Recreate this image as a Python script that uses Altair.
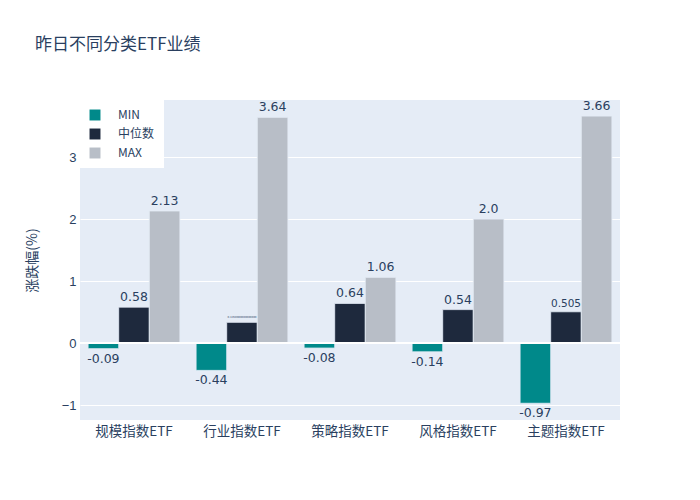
import altair as alt
import pandas as pd

categories = ["规模指数ETF", "行业指数ETF", "策略指数ETF", "风格指数ETF", "主题指数ETF"]
series = ["MIN", "中位数", "MAX"]
min_vals = [-0.09, -0.44, -0.08, -0.14, -0.97]
med_vals = [0.58, 0.335, 0.64, 0.54, 0.505]
max_vals = [2.13, 3.64, 1.06, 2.0, 3.66]
min_labels = ["-0.09", "-0.44", "-0.08", "-0.14", "-0.97"]
med_labels = ["0.58", "0.3350000000000000", "0.64", "0.54", "0.505"]
max_labels = ["2.13", "3.64", "1.06", "2.0", "3.66"]
colors = ["#00898a", "#1e293d", "#b8bec7"]

rows = []
for s, vals, labs in zip(series, [min_vals, med_vals, max_vals], [min_labels, med_labels, max_labels]):
    for c, v, l in zip(categories, vals, labs):
        rows.append({"cat": c, "series": s, "value": v, "label": l})
df = pd.DataFrame(rows)

x = alt.X("cat:N", sort=categories, title=None,
          scale=alt.Scale(paddingInner=0.15, paddingOuter=0.075),
          axis=alt.Axis(labelAngle=0, labelFontSize=13.5, labelColor="#2a3f5f",
                        ticks=False, domain=False, labelPadding=4,
                        labelFont="Noto Sans CJK SC"))
xo = alt.XOffset("series:N", sort=series, scale=alt.Scale(paddingInner=0, paddingOuter=0))
y = alt.Y("value:Q", title="涨跌幅(%)",
          scale=alt.Scale(domain=[-1.24, 3.92], nice=False, zero=False),
          axis=alt.Axis(values=[-1, 0, 1, 2, 3], format="d", labelFontSize=13,
                        labelColor="#2a3f5f", ticks=False, domain=False,
                        gridColor="white", gridWidth=1,
                        titleFontSize=14, titleColor="#2a3f5f", titleFontWeight="normal",
                        titleFont="Noto Sans CJK SC", labelPadding=4, titlePadding=22))
color = alt.Color("series:N", sort=series,
                  scale=alt.Scale(domain=series, range=colors),
                  legend=alt.Legend(title=None, orient="top-left", offset=0,
                                    fillColor="white", padding=9, symbolType="square",
                                    symbolSize=120, symbolStrokeWidth=0, symbolOpacity=1,
                                    labelFontSize=12, labelColor="#2a3f5f",
                                    labelFont="Noto Sans CJK SC", rowPadding=7,
                                    labelOffset=17))

base = alt.Chart(df)
bars = base.mark_bar(stroke="#e5ecf6", strokeWidth=0.8).encode(x=x, xOffset=xo, y=y, color=color)
zero = alt.Chart(pd.DataFrame({"z": [0]})).mark_rule(color="white", strokeWidth=2).encode(y="z:Q")

fsize = alt.condition("length(datum.label) > 4", alt.value(10.5), alt.value(12.5))
pos = base.transform_filter("datum.value >= 0 && length(datum.label) < 8").mark_text(
    baseline="bottom", dy=-3, color="#2a3f5f", font="DejaVu Sans"
).encode(x=x, xOffset=xo, y=y, text="label:N", size=fsize)
neg = base.transform_filter("datum.value < 0").mark_text(
    baseline="top", dy=4, fontSize=12.5, color="#2a3f5f", font="DejaVu Sans"
).encode(x=x, xOffset=xo, y=y, text="label:N")
tiny = base.transform_filter("length(datum.label) >= 8").mark_text(
    baseline="bottom", dy=-3, fontSize=2.6, color="#2a3f5f", font="DejaVu Sans"
).encode(x=x, xOffset=xo, y=y, text="label:N")

chart = alt.layer(bars, zero, pos, neg, tiny).properties(
    width=540, height=320,
    background="white",
    autosize=alt.AutoSizeParams(type="none"),
    padding={"left": 72, "top": 92, "right": 72, "bottom": 72},
    title=alt.TitleParams("昨日不同分类ETF业绩", anchor="start", frame="group", dx=-45,
                          offset=46, fontSize=17, fontWeight="normal", color="#2a3f5f",
                          font="Noto Sans CJK SC"),
).configure_view(fill="#e5ecf6", stroke=None)

chart.save("out.html", embed_options={"renderer": "svg", "actions": False})
